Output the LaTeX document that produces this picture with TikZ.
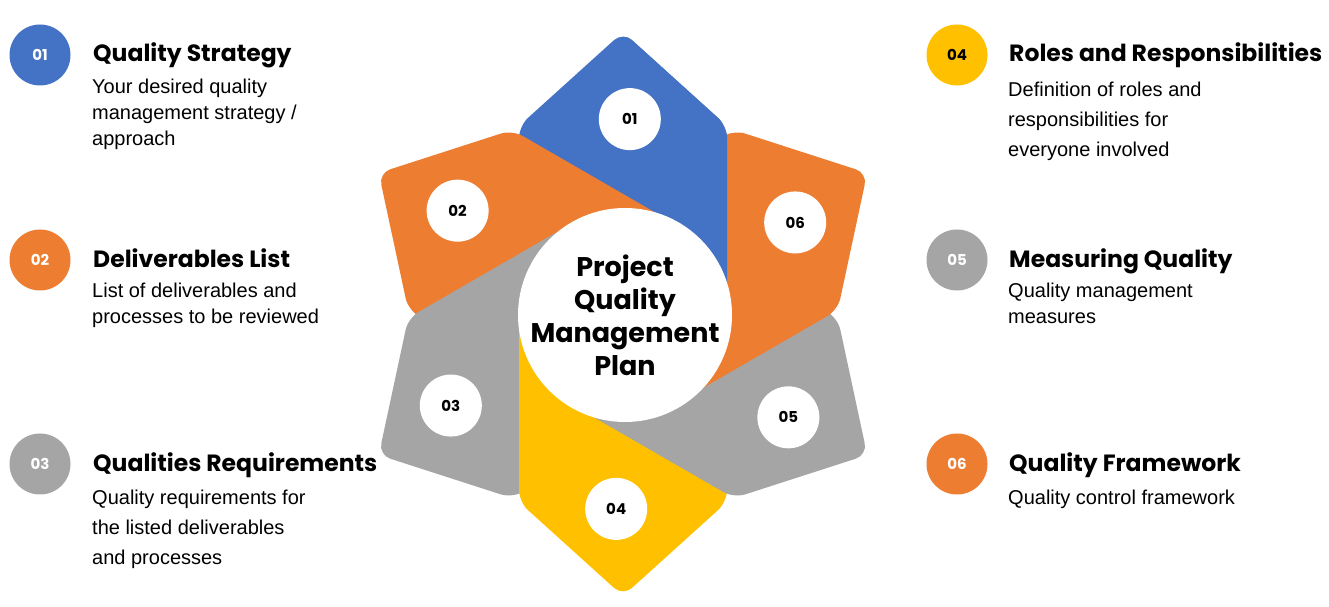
\documentclass[tikz,border=0pt]{standalone}
\usepackage{fontspec}
\usetikzlibrary{calc}
\setmainfont{Liberation Sans}
\newfontfamily\pop{Poppins}
\definecolor{cblue}{HTML}{4472C4}
\definecolor{corange}{HTML}{ED7D31}
\definecolor{cgrey}{HTML}{A5A5A5}
\definecolor{cyellow}{HTML}{FFC000}
\tikzset{
 petal/.style={fill=#1, rounded corners=12pt},
 numc/.style={circle, fill=white, minimum size=62pt, inner sep=0pt, font=\pop\bfseries\fontsize{15}{15}\selectfont},
 bul/.style={circle, fill=#1, minimum size=61pt, inner sep=0pt, text=white, font=\pop\bfseries\fontsize{15}{15}\selectfont},
 head/.style={anchor=base west, inner sep=0pt, font=\pop\bfseries\fontsize{23.5}{23.5}\selectfont},
 body/.style={anchor=north west, inner sep=0pt, align=left, font=\fontsize{20}{26}\selectfont},
}
\begin{document}
\begin{tikzpicture}[x=1pt,y=1pt]
\useasboundingbox (0,0) rectangle (1329,607);
\def\pet#1#2{\fill[petal=#2, rotate around={#1:(623,293)}, shift={(623,293)}] (0,282) -- (104,188) -- (104,-10) -- (-104,-10) -- (-104,188) -- cycle;}
\pet{0}{cblue}
\pet{60}{corange}
\pet{120}{cgrey}
\pet{180}{cyellow}
\pet{240}{cgrey}
\pet{300}{corange}
\begin{scope}
\clip (623,0) rectangle (1329,607);
\pet{0}{cblue}
\pet{60}{corange}
\end{scope}
\node[circle, fill=white, minimum size=214pt] (c) at (625,292) {};
\node[font=\pop\bfseries\fontsize{27}{33}\selectfont, align=center] (ct) at (625,292) {Project\\Quality\\Management\\Plan};
\foreach \a/\n in {90/01,150/02,210/03,270/04,330/05,30/06}
 \node[numc] (p\n) at ($(623,293)+(\a-2:195)$) {\n};
\node[bul=cblue] (b1) at (40,552) {01};
\node[bul=corange] (b2) at (40,347) {02};
\node[bul=cgrey] (b3) at (40,143) {03};
\node[bul=cyellow,text=black] (b4) at (957,552) {04};
\node[bul=cgrey] (b5) at (957,347) {05};
\node[bul=corange] (b6) at (957,143) {06};
\node[head] (h1) at (93,545) {Quality Strategy};
\node[body] (t1) at (92,528) {Your desired quality\\management strategy /\\approach};
\node[head] (h2) at (93,339) {Deliverables List};
\node[body] (t2) at (92,324) {List of deliverables and\\processes to be reviewed};
\node[head] (h3) at (93,135) {Qualities Requirements};
\node[body,font=\fontsize{20}{30}\selectfont] (t3) at (92,117) {Quality requirements for\\the listed deliverables\\and processes};
\node[head] (h4) at (1009,545) {Roles and Responsibilities};
\node[body,font=\fontsize{20}{30}\selectfont] (t4) at (1008,525) {Definition of roles and\\responsibilities for\\everyone involved};
\node[head] (h5) at (1009,339) {Measuring Quality};
\node[body] (t5) at (1008,324) {Quality management\\measures};
\node[head] (h6) at (1009,135) {Quality Framework};
\node[body] (t6) at (1008,117) {Quality control framework};
\end{tikzpicture}
\end{document}
